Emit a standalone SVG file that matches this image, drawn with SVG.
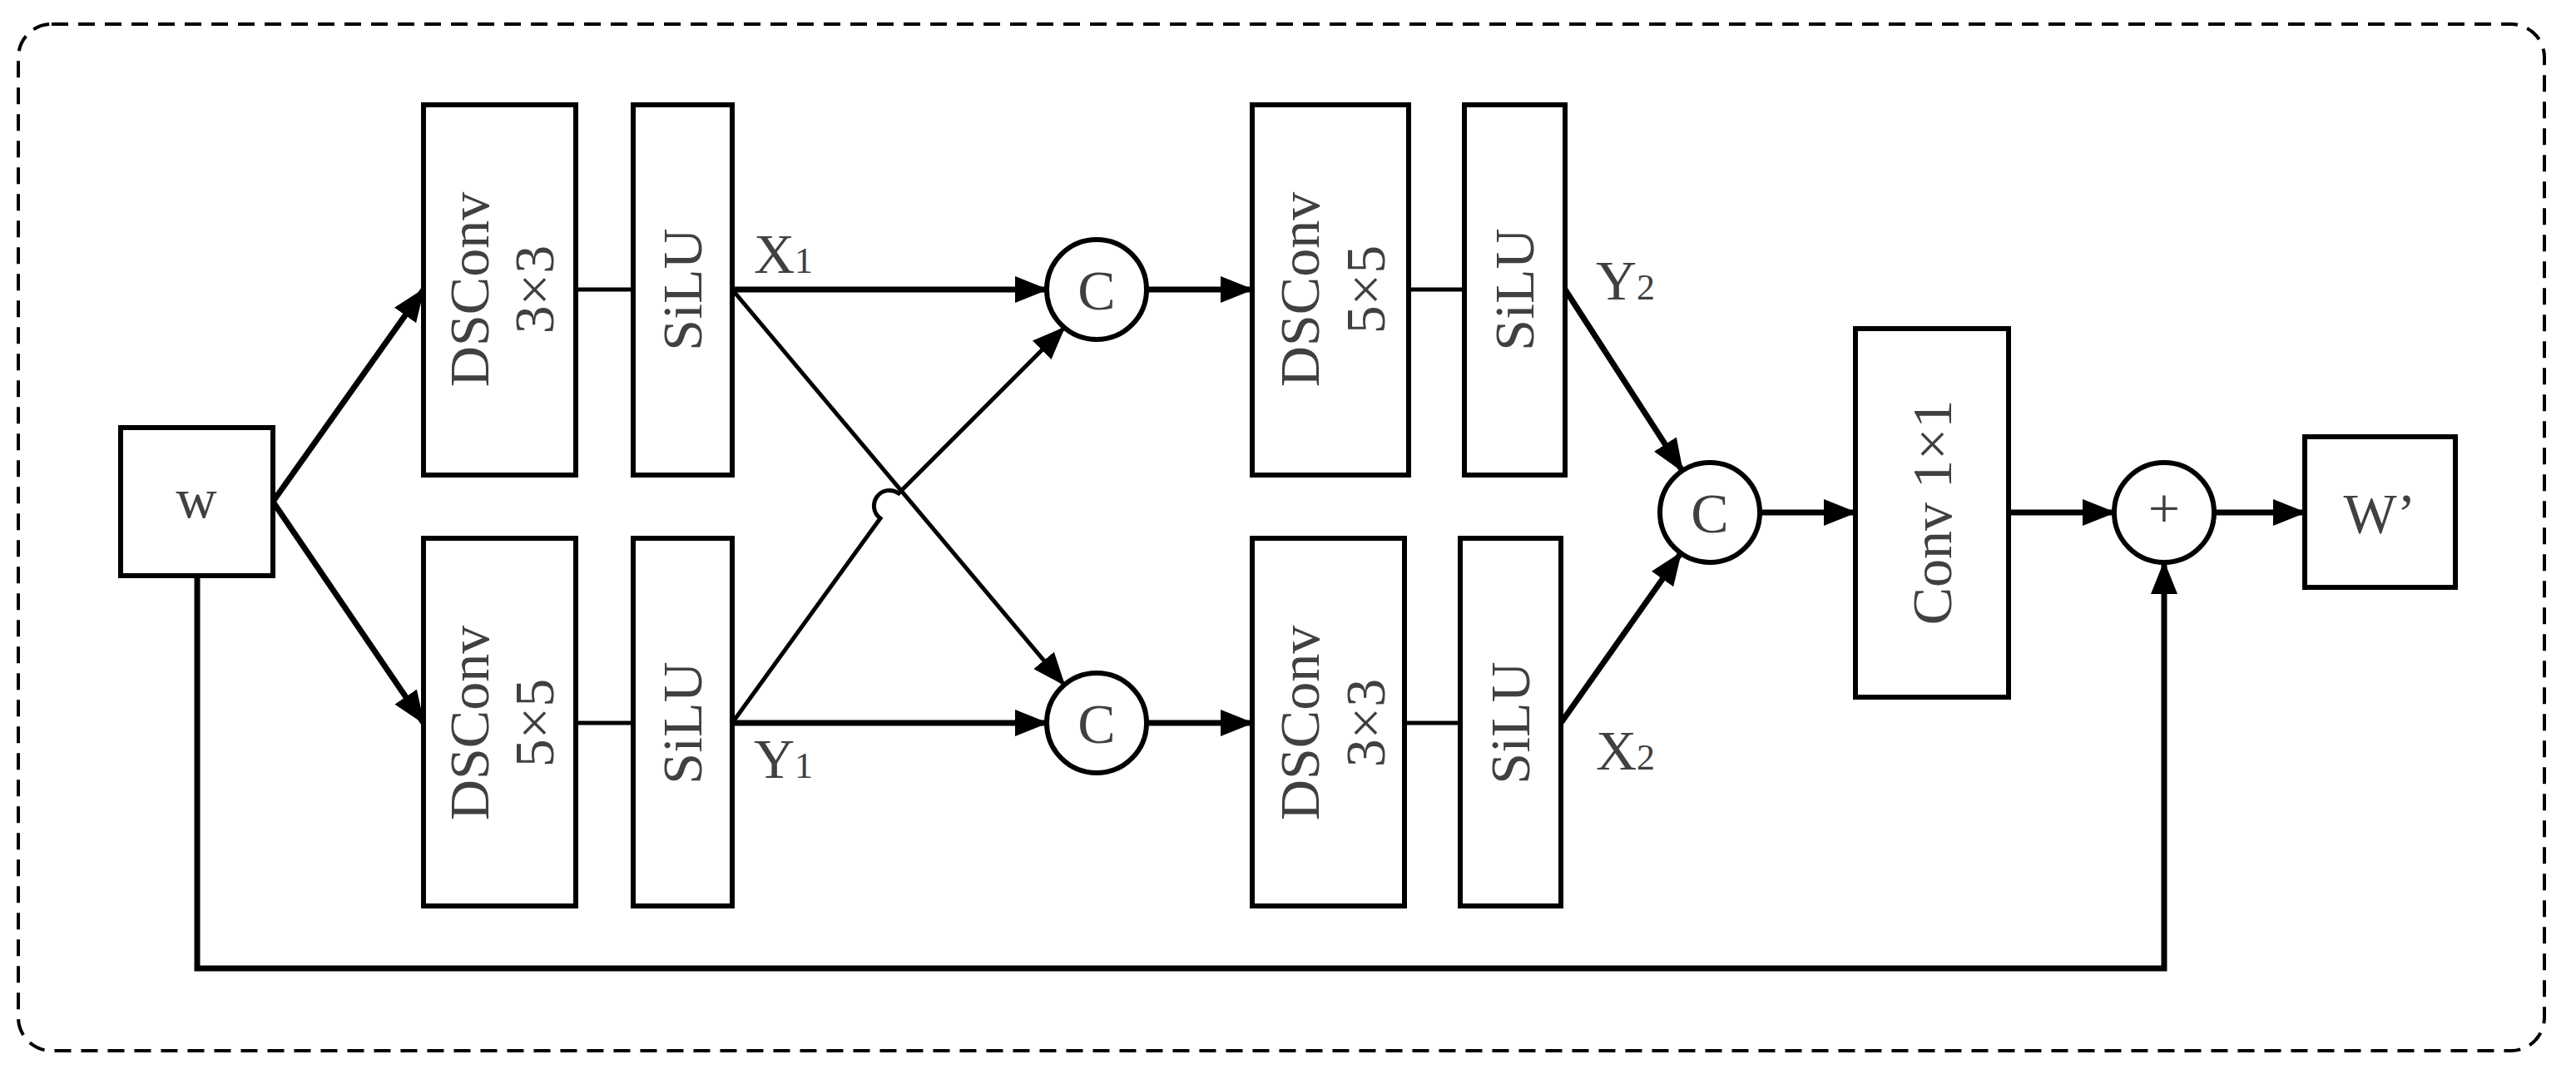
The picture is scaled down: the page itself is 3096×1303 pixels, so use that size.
<svg xmlns="http://www.w3.org/2000/svg" width="3096" height="1303" viewBox="0 0 3096 1303">
<style>
.box{fill:#fff;stroke:#000;stroke-width:6}
.t{font-family:"Liberation Serif","DejaVu Serif",serif;fill:#404040;font-size:68px}
.l{fill:none;stroke:#000;stroke-width:5}
.a{fill:none;stroke:#000;stroke-width:7;marker-end:url(#ah)}
</style>
<defs>
<marker id="ah" markerUnits="userSpaceOnUse" markerWidth="40" markerHeight="32" refX="38" refY="16" orient="auto">
<path d="M0,0 L40,16 L0,32 Z" fill="#000"/>
</marker>
</defs>
<rect x="22" y="29" width="3036" height="1234" rx="40" fill="none" stroke="#000" stroke-width="4" stroke-dasharray="20,12"/>
<g id="connectors">
<path class="a" d="M328,603 L509,348"/>
<path class="a" d="M328,603 L509,869"/>
<path class="l" d="M692,348 L761,348"/>
<path class="l" d="M692,869 L761,869"/>
<path class="a" d="M880,348 L1258,348"/>
<path class="a" d="M880,869 L1258,869"/>
<path class="l" d="M880,348 L1279,823" marker-end="url(#ah)" stroke-width="5"/>
<path class="l" d="M880,869 L1058,623 A18,18 0 0 1 1080,593 L1279,394" marker-end="url(#ah)" stroke-width="5"/>
<path class="a" d="M1378,348 L1505,348"/>
<path class="a" d="M1378,869 L1505,869"/>
<path class="l" d="M1693,348 L1760,348"/>
<path class="l" d="M1688,869 L1755,869"/>
<path class="a" d="M1881,348 L2022,566"/>
<path class="a" d="M1876,869 L2020,665"/>
<path class="a" d="M2115,616 L2230,616"/>
<path class="a" d="M2414,616 L2541,616"/>
<path class="a" d="M2661,616 L2770,616"/>
<path class="a" d="M237,692 L237,1164 L2601,1164 L2601,676"/>
</g>
<g id="w"><rect class="box" x="145" y="514" width="183" height="178"/><text class="t" x="236" y="622" text-anchor="middle" font-size="60">w</text></g>
<g id="dsconv1"><rect class="box" x="509" y="126" width="183" height="445"/><text class="t" transform="translate(587,348) rotate(-90)" text-anchor="middle">DSConv</text><text class="t" transform="translate(665,348) rotate(-90)" text-anchor="middle">3×3</text></g>
<g id="silu1"><rect class="box" x="761" y="126" width="119" height="445"/><text class="t" transform="translate(843,348) rotate(-90)" text-anchor="middle">SiLU</text></g>
<g id="dsconv2"><rect class="box" x="509" y="647" width="183" height="442"/><text class="t" transform="translate(587,869) rotate(-90)" text-anchor="middle">DSConv</text><text class="t" transform="translate(665,869) rotate(-90)" text-anchor="middle">5×5</text></g>
<g id="silu2"><rect class="box" x="761" y="647" width="119" height="442"/><text class="t" transform="translate(843,869) rotate(-90)" text-anchor="middle">SiLU</text></g>
<g id="lx1"><text class="t" x="906" y="328">X<tspan font-size="44">1</tspan></text></g>
<g id="ly1"><text class="t" x="906" y="935">Y<tspan font-size="44">1</tspan></text></g>
<g id="c1"><circle class="box" cx="1318" cy="348" r="60"/><text class="t" x="1318" y="372" text-anchor="middle">C</text></g>
<g id="c2"><circle class="box" cx="1318" cy="869" r="60"/><text class="t" x="1318" y="893" text-anchor="middle">C</text></g>
<g id="dsconv3"><rect class="box" x="1505" y="126" width="188" height="445"/><text class="t" transform="translate(1585,348) rotate(-90)" text-anchor="middle">DSConv</text><text class="t" transform="translate(1664,348) rotate(-90)" text-anchor="middle">5×5</text></g>
<g id="silu3"><rect class="box" x="1760" y="126" width="121" height="445"/><text class="t" transform="translate(1843,348) rotate(-90)" text-anchor="middle">SiLU</text></g>
<g id="dsconv4"><rect class="box" x="1505" y="647" width="183" height="442"/><text class="t" transform="translate(1585,869) rotate(-90)" text-anchor="middle">DSConv</text><text class="t" transform="translate(1664,869) rotate(-90)" text-anchor="middle">3×3</text></g>
<g id="silu4"><rect class="box" x="1755" y="647" width="121" height="442"/><text class="t" transform="translate(1838,869) rotate(-90)" text-anchor="middle">SiLU</text></g>
<g id="ly2"><text class="t" x="1918" y="360">Y<tspan font-size="44">2</tspan></text></g>
<g id="lx2"><text class="t" x="1918" y="925">X<tspan font-size="44">2</tspan></text></g>
<g id="c3"><circle class="box" cx="2055" cy="616" r="60"/><text class="t" x="2055" y="640" text-anchor="middle">C</text></g>
<g id="conv"><rect class="box" x="2230" y="395" width="184" height="443"/><text class="t" transform="translate(2345,616) rotate(-90)" text-anchor="middle">Conv 1×1</text></g>
<g id="plus"><circle class="box" cx="2601" cy="616" r="60"/><text class="t" x="2601" y="634" text-anchor="middle" font-size="52">+</text></g>
<g id="wout"><rect class="box" x="2770" y="525" width="181" height="181"/><text class="t" x="2860" y="640" text-anchor="middle">W’</text></g>
</svg>
